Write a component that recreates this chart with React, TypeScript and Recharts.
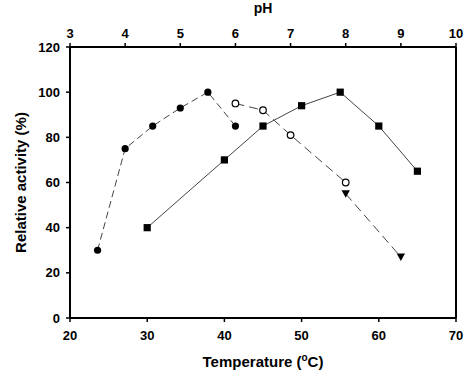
import React from "react";
import { ComposedChart, Scatter, XAxis, YAxis, ReferenceLine, Label } from "recharts";

// pH series (top axis)
const phFilledX = [3.5, 4.0, 4.5, 5.0, 5.5, 6.0];
const phFilledY = [30, 75, 85, 93, 100, 85];
const phOpenX = [6.0, 6.5, 7.0, 8.0];
const phOpenY = [95, 92, 81, 60];
const phTriX = [8.0, 9.0];
const phTriY = [55, 27];
// Temperature series (bottom axis)
const tempX = [30, 40, 45, 50, 55, 60, 65];
const tempY = [40, 70, 85, 94, 100, 85, 65];

const tempTicks = [20, 30, 40, 50, 60, 70];
const phTicks = [3, 4, 5, 6, 7, 8, 9, 10];
const yTicks = [0, 20, 40, 60, 80, 100, 120];

const toPts = (xs: number[], ys: number[]) => xs.map((x, i) => ({ x, y: ys[i] }));
const phFilled = toPts(phFilledX, phFilledY);
const phOpen = toPts(phOpenX, phOpenY);
const phTri = toPts(phTriX, phTriY);
const temp = toPts(tempX, tempY);

const FONT = "'Liberation Sans', Arial, sans-serif";
const tickStyle = { fontSize: 13, fontWeight: "bold", fill: "#000", fontFamily: FONT };
const lineCol = "#444";

const FilledCircle = (p: any) => <circle cx={p.cx} cy={p.cy} r={3.6} fill="#000" />;
const OpenCircle = (p: any) => (
  <circle cx={p.cx} cy={p.cy} r={3.3} fill="#fff" stroke="#000" strokeWidth={1.2} />
);
const Square = (p: any) => <rect x={p.cx - 3.6} y={p.cy - 3.6} width={7.2} height={7.2} fill="#000" />;
const TriDown = (p: any) => (
  <path d={`M${p.cx - 4.2},${p.cy - 3.5} L${p.cx + 4.2},${p.cy - 3.5} L${p.cx},${p.cy + 4} Z`} fill="#000" />
);

const PhTitle = (props: any) => {
  const vb = props.viewBox;
  return (
    <text x={vb.x + vb.width / 2} y={13} textAnchor="middle" fontSize={14} fontWeight="bold" fontFamily={FONT} fill="#000">
      pH
    </text>
  );
};
const TempTitle = (props: any) => {
  const vb = props.viewBox;
  return (
    <text x={vb.x + vb.width / 2} y={367} textAnchor="middle" fontSize={15} fontWeight="bold" fontFamily={FONT} fill="#000">
      Temperature (
      <tspan fontSize={10} dy={-6}>o</tspan>
      <tspan dy={6}>C)</tspan>
    </text>
  );
};
const YTitle = (props: any) => {
  const vb = props.viewBox;
  const cy = vb.y + vb.height / 2;
  return (
    <text x={26} y={cy} transform={`rotate(-90 26 ${cy})`} textAnchor="middle" fontSize={15} fontWeight="bold" fontFamily={FONT} fill="#000">
      Relative activity (%)
    </text>
  );
};

export default function App() {
  return (
    <div style={{ position: "absolute", left: 0, top: 0, background: "#fff" }}>
      <ComposedChart width={474} height={375} margin={{ top: 0, right: 18, bottom: 0, left: 0 }}>
        <XAxis
          xAxisId="temp"
          dataKey="x"
          type="number"
          orientation="bottom"
          domain={[20, 70]}
          ticks={tempTicks}
          height={57}
          tickSize={4}
          tickMargin={9}
          axisLine={{ stroke: "#000", strokeWidth: 2 }}
          tickLine={{ stroke: "#000", strokeWidth: 1.5 }}
          tick={tickStyle}
          interval={0}
        >
          <Label content={TempTitle} />
        </XAxis>
        <XAxis
          xAxisId="ph"
          dataKey="x"
          type="number"
          orientation="top"
          domain={[3, 10]}
          ticks={phTicks}
          height={47}
          tickSize={4}
          tickMargin={5}
          axisLine={{ stroke: "#000", strokeWidth: 2 }}
          tickLine={{ stroke: "#000", strokeWidth: 1.5 }}
          tick={tickStyle}
          interval={0}
        >
          <Label content={PhTitle} />
        </XAxis>
        <YAxis
          yAxisId="y"
          dataKey="y"
          type="number"
          domain={[0, 120]}
          ticks={yTicks}
          width={70}
          tickSize={4}
          tickMargin={6}
          axisLine={{ stroke: "#000", strokeWidth: 2 }}
          tickLine={{ stroke: "#000", strokeWidth: 1.5 }}
          tick={tickStyle}
          interval={0}
        >
          <Label content={YTitle} />
        </YAxis>
        <ReferenceLine xAxisId="temp" yAxisId="y" x={70} stroke="#000" strokeWidth={2} />
        <Scatter
          xAxisId="temp"
          yAxisId="y"
          data={temp}
          line={{ stroke: lineCol, strokeWidth: 1 }}
          lineType="joint"
          shape={Square}
          isAnimationActive={false}
        />
        <Scatter
          xAxisId="ph"
          yAxisId="y"
          data={phFilled}
          line={{ stroke: lineCol, strokeWidth: 1, strokeDasharray: "7 4" }}
          lineType="joint"
          shape={FilledCircle}
          isAnimationActive={false}
        />
        <Scatter
          xAxisId="ph"
          yAxisId="y"
          data={phOpen}
          line={{ stroke: lineCol, strokeWidth: 1, strokeDasharray: "9 5" }}
          lineType="joint"
          shape={OpenCircle}
          isAnimationActive={false}
        />
        <Scatter
          xAxisId="ph"
          yAxisId="y"
          data={phTri}
          line={{ stroke: lineCol, strokeWidth: 1, strokeDasharray: "9 5" }}
          lineType="joint"
          shape={TriDown}
          isAnimationActive={false}
        />
      </ComposedChart>
    </div>
  );
}
